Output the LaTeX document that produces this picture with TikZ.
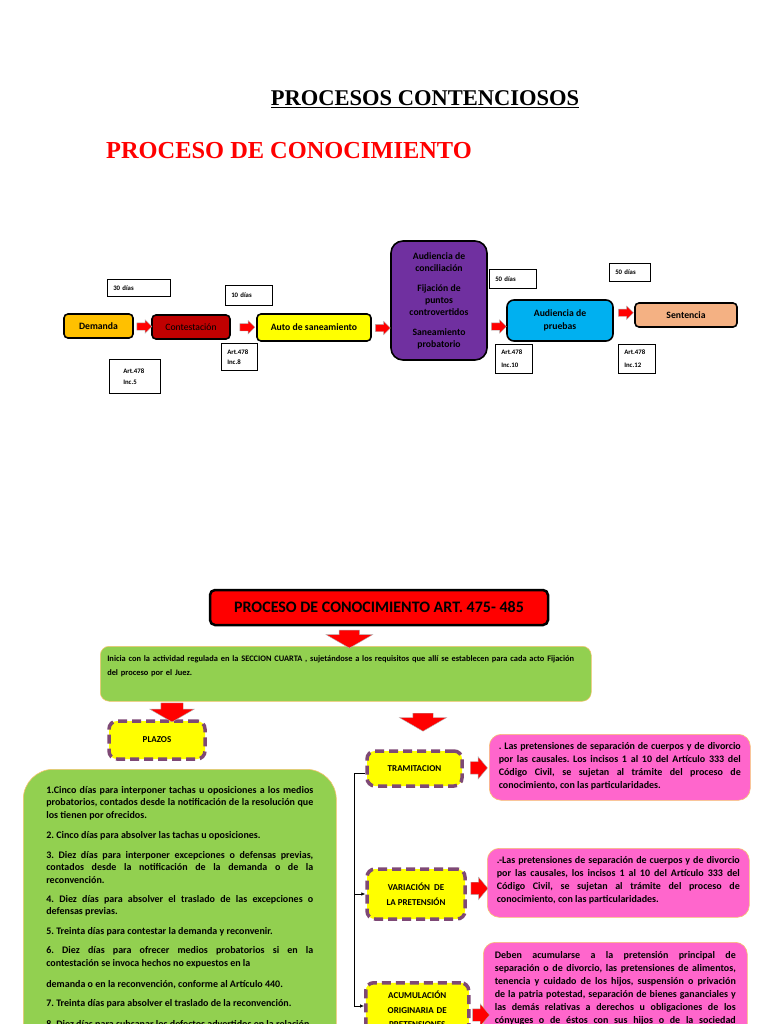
\documentclass[tikz,border=0pt]{standalone}
\usepackage{fontspec}
\setmainfont{Carlito}
\newfontfamily\titfont{Liberation Serif}
\usetikzlibrary{arrows.meta,calc,positioning,shapes.arrows}
\definecolor{pcgold}{RGB}{255,192,0}
\definecolor{pcwine}{RGB}{192,0,0}
\definecolor{pcyellow}{RGB}{255,255,0}
\definecolor{pcpurple}{RGB}{112,48,160}
\definecolor{pccyan}{RGB}{0,176,240}
\definecolor{pcpeach}{RGB}{244,177,131}
\definecolor{pcred}{RGB}{255,0,0}
\definecolor{pclime}{RGB}{146,208,80}
\definecolor{pcpink}{RGB}{255,102,204}
\definecolor{pcmauve}{RGB}{126,73,117}
\definecolor{pcedge}{RGB}{246,196,110}
\frenchspacing

\begin{document}
\begin{tikzpicture}[x=1pt,y=-1pt,
    etapa/.style={draw,line width=1.6pt,rounded corners=4pt,inner sep=0pt,align=center,font=\fontsize{9.7}{12}\selectfont\bfseries},
    nota/.style={draw,line width=.5pt,anchor=north west,inner ysep=0pt,inner xsep=6pt,align=left,font=\fontsize{6.8}{11}\selectfont\bfseries},
    punta/.style={single arrow,fill=pcred,draw=gray!60,line width=.4pt,inner xsep=0pt},
    flechita/.style={punta,minimum height=15pt,inner ysep=3.5pt,single arrow head extend=3pt},
    flecha/.style={punta,minimum height=17pt,inner ysep=6pt,single arrow head extend=5pt,single arrow tip angle=100},
    flechon/.style={punta,shape border rotate=270,minimum height=18pt,inner ysep=0pt,inner xsep=10pt,single arrow head extend=13pt,minimum width=46pt,single arrow tip angle=120},
    rubro/.style={draw=pcmauve,line width=3.5pt,dash pattern=on 9pt off 5pt,fill=pcyellow,rounded corners=8pt,align=center,inner sep=0pt,font=\fontsize{9}{14.5}\selectfont\bfseries},
    detalle/.style={draw=pcedge,line width=.6pt,fill=pcpink,rounded corners=12pt,anchor=north west,align=justify,inner xsep=9.5pt,inner ysep=8pt,text height=7pt,font=\fontsize{10}{13}\selectfont\bfseries}]
  \clip (0,0) rectangle (768,1024);
  \fill[white] (0,0) rectangle (768,1024);

  \node[anchor=base,inner sep=0pt,font=\titfont\fontsize{22.5}{26}\selectfont\bfseries] (tit) at (425,106) {\underline{PROCESOS CONTENCIOSOS}};
  \node[anchor=base west,inner sep=0pt,text=pcred,font=\titfont\fontsize{24.4}{28}\selectfont\bfseries] (sub) at (106,159) {PROCESO DE CONOCIMIENTO};

  \node[etapa,fill=pcgold,minimum width=69pt,minimum height=24pt] (dem) at (98.5,326) {Demanda};
  \node[etapa,fill=pcwine,minimum width=78pt,minimum height=24pt,font=\fontsize{9.7}{12}\selectfont] (con) at (191,327) {Contestación};
  \node[etapa,fill=pcyellow,minimum width=114pt,minimum height=27pt] (aut) at (314,327.5) {Auto de saneamiento};
  \node[etapa,fill=pcpurple,minimum width=96pt,minimum height=119pt,rounded corners=12pt] (aud) at (439,300.5)
    {Audiencia de\\conciliación\\[8pt]Fijación de\\puntos\\controvertidos\\[8pt]Saneamiento\\probatorio};
  \node[etapa,fill=pccyan,minimum width=106pt,minimum height=41pt,rounded corners=7pt,font=\fontsize{9.7}{13}\selectfont\bfseries] (pru) at (560,320.5) {Audiencia de\\pruebas};
  \node[etapa,fill=pcpeach,minimum width=102pt,minimum height=24pt] (sen) at (686,315) {Sentencia};

  \node[flechita] (f1) at ($(dem.east)!.5!(con.west)$) {};
  \node[flechita] (f2) at ($(con.east)!.5!(aut.west)+(2,0)$) {};
  \node[flechita] (f3) at ($(aut.east)!.5!(aud.west)+(0,14)$) {};
  \node[flechita] (f4) at ($(aud.east)!.5!(pru.west)+(0,16)$) {};
  \node[flechita] (f5) at ($(pru.east)!.5!(sen.west)+(0,-5)$) {};

  \node[nota,text width=51pt,minimum height=17pt] (d30) at (107,279) {30 días};
  \node[nota,text width=23pt,minimum height=34pt,inner xsep=14pt] (a5) at (109,359) {Art.478\\Inc.5};
  \node[nota,text width=35pt,minimum height=20pt] (d10) at (225,285) {10 días};
  \node[nota,text width=24pt,minimum height=27pt,font=\fontsize{6.8}{10}\selectfont\bfseries] (a8) at (221,343) {Art.478\\Inc.8};
  \node[nota,text width=35pt,minimum height=19pt] (d50a) at (489,269) {50 días};
  \node[nota,text width=25pt,minimum height=29pt,font=\fontsize{6.8}{13}\selectfont\bfseries] (a10) at (495,344) {Art.478\\Inc.10};
  \node[nota,text width=29pt,minimum height=18pt] (d50b) at (609,263) {50 días};
  \node[nota,text width=25pt,minimum height=29pt,font=\fontsize{6.8}{13}\selectfont\bfseries] (a12) at (618,344) {Art.478\\Inc.12};

  \node[draw,line width=2.5pt,fill=pcred,rounded corners=5pt,minimum width=338pt,minimum height=35pt,font=\fontsize{16}{18}\selectfont\bfseries] (cab) at (379,607.5)
    {PROCESO DE CONOCIMIENTO ART. 475- 485};
  \node[draw=pcedge,line width=.5pt,fill=pclime,rounded corners=9pt,anchor=north west,text width=477pt,inner xsep=7pt,inner ysep=9.5pt,text height=6pt,text depth=30pt,align=left,font=\fontsize{8.4}{14}\selectfont\bfseries] (ini) at (100,646)
    {Inicia con la actividad regulada en la SECCION CUARTA , sujetándose a los requisitos que allí se establecen para cada acto Fijación\\del proceso por el Juez.};
  \node[flechon] (b1) at ($(cab.south)!.5!(ini.north)+(-13,0)$) {};

  \node[rubro,minimum width=96pt,minimum height=38pt] (plz) at (157,740) {PLAZOS};
  \node[flechon,inner xsep=11pt,minimum width=44pt,single arrow head extend=11pt,minimum height=19pt] (b2) at ($(plz.north)+(15,-10)$) {};

  \node[draw=pcedge,line width=.6pt,fill=pclime,rounded corners=30pt,anchor=north west,text width=267pt,inner xsep=23pt,inner ysep=16.5pt,text height=7.5pt,text depth=280pt,align=justify,font=\fontsize{10}{12.5}\selectfont\bfseries] (pla) at (23,769)
    {1.Cinco días para interponer tachas u oposiciones a los medios\linebreak probatorios, contados desde la notificación de la resolución que\linebreak los tienen por ofrecidos.\\[7.5pt]
     2. Cinco días para absolver las tachas u oposiciones.\\[7.5pt]
     3. Diez días para interponer excepciones o defensas previas,\linebreak contados desde la notificación de la demanda o de la\linebreak reconvención.\\[6.5pt]
     4. Diez días para absolver el traslado de las excepciones o\linebreak defensas previas.\\[7.5pt]
     5. Treinta días para contestar la demanda y reconvenir.\\[6.5pt]
     6. Diez días para ofrecer medios probatorios si en la\linebreak contestación se invoca hechos no expuestos en la\\[8.5pt]
     demanda o en la reconvención, conforme al Artículo 440.\\[6.5pt]
     7. Treinta días para absolver el traslado de la reconvención.\\[8.5pt]
     8. Diez días para subsanar los defectos advertidos en la relación};

  \node[rubro,minimum width=95pt,minimum height=35pt] (tra) at (414.5,768.5) {TRAMITACION};
  \node[flechon,minimum width=47pt,single arrow head extend=13.5pt] (b3) at ($(tra.north)+(8.5,-30)$) {};
  \node[rubro,minimum width=98pt,minimum height=50pt] (var) at (416,894) {VARIACIÓN~~DE\\LA PRETENSIÓN};
  \node[rubro,anchor=north west,text width=103pt,inner ysep=9pt,text height=7pt,text depth=60pt] (acu) at (364,981) {ACUMULACIÓN\\ORIGINARIA DE\\PRETENSIONES};

  \coordinate (rama) at ($(tra.west)+(-11,4.5)$);
  \draw[line width=.6pt,-{Latex[length=4pt,width=3.5pt]}] (tra.west |- rama) -- (rama) |- (var.west);
  \draw[line width=.6pt,-{Latex[length=4pt,width=3.5pt]}] (rama) |- ($(acu.north west)+(0,25)$);

  \node[detalle,text width=242pt,text depth=43pt] (p1) at (489,734)
    {. Las pretensiones de separación de cuerpos y de divorcio\linebreak por las causales. Los incisos 1 al 10 del Artículo 333 del\linebreak Código Civil, se sujetan al trámite del proceso de\linebreak conocimiento, con las particularidades.};
  \node[detalle,text width=243pt,text depth=46pt] (p2) at (487,848)
    {.-Las pretensiones de separación de cuerpos y de divorcio\linebreak por las causales, los incisos 1 al 10 del Artículo 333 del\linebreak Código Civil, se sujetan al trámite del proceso de\linebreak conocimiento, con las particularidades.};
  \node[detalle,text width=241pt,inner xsep=11.5pt,inner ysep=9pt,text depth=120pt] (p3) at (483,942)
    {Deben acumularse a la pretensión principal de\linebreak separación o de divorcio, las pretensiones de alimentos,\linebreak tenencia y cuidado de los hijos, suspensión o privación\linebreak de la patria potestad, separación de bienes gananciales y\linebreak las demás relativas a derechos u obligaciones de los\linebreak cónyuges o de éstos con sus hijos o de la sociedad\linebreak\mbox{}};

  \node[flecha] (r1) at ($(tra.east)!.5!(p1.west)$) {};
  \node[flecha] (r2) at ($(var.east)!.5!(p2.west)$) {};
  \node[flecha] (r3) at ($(acu.north east)+(8,34)$) {};
\end{tikzpicture}
\end{document}
